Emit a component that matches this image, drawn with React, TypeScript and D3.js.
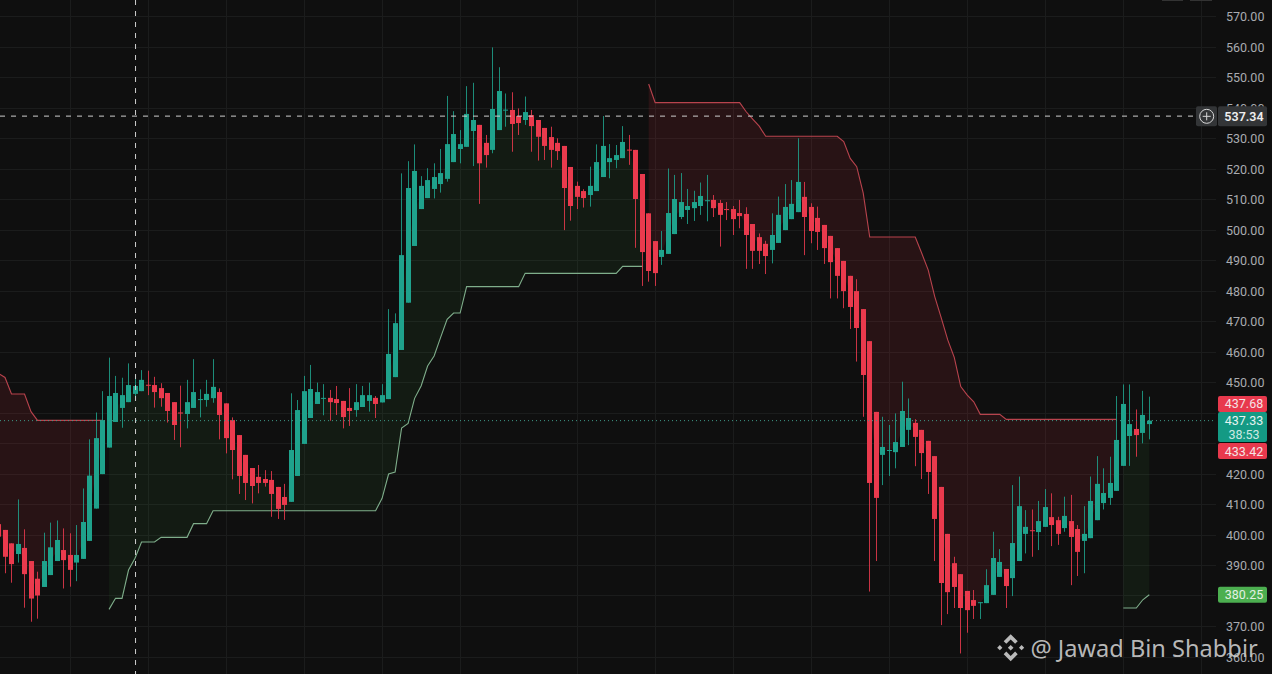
import React, { useEffect, useRef } from "react";
import * as d3 from "d3";

// OHLC per bar. Bar 0 is the one cut by the left edge.
const opens = [
  403.4, 401.5, 397.1, 393.6, 395.6, 391.3, 385.5, 382.8, 386.7, 391.3,
  394.9, 393.3, 390.8, 392.0, 397.9, 408.5, 419.8, 428.5, 436.9, 441.5,
  443.4, 446.1, 447.0, 449.1, 449.0, 448.0, 446.4, 443.4, 440.0, 439.5,
  441.5, 444.2, 444.1, 444.7, 446.7, 443.0, 437.5, 432.6, 426.1, 421.8,
  418.9, 418.2, 417.9, 415.6, 412.3, 410.7, 419.2, 429.7, 438.2, 442.8,
  444.5, 444.8, 444.4, 443.8, 441.5, 440.8, 441.8, 443.8, 444.8, 443.3,
  444.4, 451.6, 460.5, 476.0, 494.6, 506.7, 510.3, 513.3, 514.9, 516.6,
  522.1, 526.4, 527.1, 532.3, 534.3, 528.4, 526.1, 532.6, 539.1, 539.2,
  537.2, 535.9, 537.5, 535.9, 533.3, 530.3, 528.4, 527.4, 520.5, 514.3,
  512.6, 511.3, 512.6, 517.2, 522.1, 522.8, 523.4, 526.2, 526.1, 518.2,
  505.3, 496.2, 491.0, 492.0, 498.5, 504.1, 506.4, 507.0, 507.7, 509.3,
  509.7, 508.7, 506.7, 506.7, 505.4, 505.1, 501.8, 497.5, 495.3, 493.3,
  495.6, 499.8, 503.4, 505.7, 510.7, 507.4, 503.8, 501.5, 497.9, 493.9,
  489.7, 484.8, 479.8, 473.9, 463.4, 440.2, 426.1, 427.5, 427.0, 428.7,
  434.3, 436.6, 434.3, 430.7, 425.7, 415.6, 400.2, 390.6, 387.0, 381.5,
  378.5, 377.5, 377.5, 380.2, 386.1, 388.7, 385.7, 391.3, 400.2, 401.4,
  400.8, 402.5, 405.7, 404.7, 402.1, 404.4, 401.8, 397.9, 398.8, 404.7,
  410.3, 412.0, 414.3, 422.5, 432.3, 434.6, 433.3, 436.2,
];

const closes = [
  399.3, 392.7, 390.3, 396.9, 387.0, 379.0, 380.0, 391.3, 395.8, 398.2,
  391.6, 388.4, 393.3, 404.1, 419.3, 431.6, 437.5, 445.4, 446.4, 445.7,
  449.0, 448.7, 450.7, 448.8, 446.7, 444.7, 440.5, 435.9, 439.7, 443.4,
  446.7, 444.4, 446.1, 448.4, 439.2, 431.6, 427.7, 419.2, 416.9, 415.9,
  416.9, 416.9, 413.3, 408.4, 409.7, 427.7, 440.8, 447.0, 447.7, 446.7,
  444.8, 443.4, 443.1, 438.5, 440.5, 443.4, 445.7, 445.7, 442.8, 445.7,
  459.2, 469.3, 491.6, 513.6, 519.2, 514.3, 516.2, 517.2, 518.5, 528.0,
  531.3, 528.0, 537.9, 535.9, 521.7, 524.4, 539.5, 545.4, 539.3, 534.6,
  534.9, 538.5, 533.9, 530.4, 527.4, 526.1, 525.7, 513.6, 507.7, 510.7,
  510.3, 514.3, 522.1, 527.4, 523.4, 524.4, 528.7, 526.0, 510.0, 492.6,
  486.4, 485.7, 493.3, 505.4, 510.0, 509.0, 507.7, 509.0, 511.0, 509.6,
  507.0, 504.8, 506.5, 503.4, 504.4, 498.2, 493.0, 493.0, 491.3, 498.2,
  504.8, 507.4, 508.4, 515.6, 504.1, 499.5, 499.2, 493.9, 489.3, 484.8,
  479.8, 474.6, 467.7, 452.3, 416.9, 412.0, 428.7, 427.7, 430.3, 440.5,
  438.2, 432.0, 426.7, 420.5, 405.1, 384.1, 381.1, 382.8, 375.9, 375.2,
  376.6, 377.8, 383.4, 392.3, 391.0, 383.1, 397.2, 409.3, 402.5, 401.1,
  404.4, 409.0, 403.1, 400.2, 406.1, 399.2, 394.3, 400.2, 411.0, 416.6,
  413.6, 416.9, 431.0, 442.8, 436.2, 432.6, 439.2, 437.33,
];

const highs = [
  403.4, 401.5, 397.1, 411.5, 401.7, 391.3, 387.8, 400.6, 403.9, 404.6,
  402.0, 400.4, 403.1, 415.1, 431.2, 440.0, 447.0, 458.0, 452.0, 451.4,
  456.1, 452.3, 453.9, 453.7, 451.7, 449.6, 446.4, 443.4, 448.8, 450.7,
  457.5, 447.6, 450.7, 457.5, 447.9, 443.0, 438.4, 432.6, 426.1, 421.8,
  422.8, 421.1, 420.8, 415.6, 416.6, 446.3, 444.1, 452.0, 455.6, 449.8,
  449.3, 447.4, 448.7, 443.8, 448.0, 449.3, 448.7, 449.8, 445.4, 449.3,
  473.9, 472.5, 518.4, 522.4, 527.9, 517.5, 520.1, 521.7, 526.4, 543.8,
  538.8, 532.6, 547.0, 548.1, 534.3, 531.0, 559.7, 553.2, 544.6, 545.0,
  539.7, 543.6, 539.2, 535.9, 533.3, 533.7, 529.9, 527.4, 520.5, 515.7,
  513.2, 520.6, 527.9, 537.2, 528.0, 527.7, 533.9, 531.0, 526.1, 518.2,
  505.3, 496.2, 499.5, 520.0, 517.9, 518.5, 513.3, 512.7, 515.4, 517.9,
  511.3, 509.7, 509.0, 507.7, 509.7, 507.3, 501.8, 498.7, 496.3, 505.3,
  510.8, 514.9, 516.2, 529.9, 515.6, 508.6, 507.5, 501.5, 497.9, 493.9,
  489.7, 484.8, 483.7, 473.9, 463.4, 440.2, 438.6, 435.9, 439.7, 450.1,
  444.6, 437.8, 434.3, 430.7, 425.7, 415.6, 400.2, 392.7, 387.0, 381.5,
  381.8, 377.8, 388.6, 400.9, 395.2, 388.7, 416.2, 419.0, 408.0, 408.2,
  411.0, 414.9, 413.5, 405.8, 412.4, 413.0, 403.1, 409.3, 419.0, 425.7,
  421.7, 425.5, 445.4, 449.2, 449.2, 441.0, 447.1, 445.2,
];

const lows = [
  396.0, 387.3, 384.2, 390.8, 376.0, 371.4, 372.4, 382.8, 386.7, 391.3,
  382.3, 382.9, 384.7, 392.0, 397.9, 408.5, 419.8, 428.5, 436.9, 435.0,
  443.4, 445.2, 447.0, 445.7, 441.6, 441.9, 436.7, 431.0, 428.6, 434.8,
  441.5, 438.4, 441.9, 443.2, 431.2, 426.6, 418.1, 413.3, 411.3, 410.2,
  413.5, 415.7, 405.8, 405.1, 404.8, 410.7, 419.2, 429.7, 438.2, 442.8,
  439.1, 437.3, 439.2, 434.8, 435.6, 438.6, 441.8, 440.3, 438.2, 443.3,
  444.4, 451.6, 460.5, 476.0, 494.6, 506.7, 510.3, 510.2, 512.1, 515.7,
  522.1, 521.7, 527.1, 520.8, 508.4, 520.3, 525.0, 532.6, 533.7, 525.5,
  531.0, 534.3, 525.5, 522.6, 522.8, 520.3, 522.8, 499.8, 502.9, 506.7,
  507.2, 507.5, 512.6, 517.2, 516.8, 520.1, 523.4, 521.2, 494.0, 481.5,
  482.9, 481.5, 488.4, 492.0, 498.5, 503.4, 501.8, 502.8, 504.8, 502.7,
  504.1, 494.4, 503.1, 498.2, 500.4, 487.1, 487.1, 488.7, 485.4, 488.9,
  495.6, 499.8, 503.4, 505.7, 491.6, 495.5, 493.3, 488.7, 477.4, 477.4,
  474.2, 467.4, 456.7, 438.6, 381.3, 391.3, 416.2, 419.2, 421.7, 428.7,
  429.3, 422.4, 418.2, 413.3, 391.3, 370.3, 373.9, 375.9, 361.0, 367.8,
  372.3, 372.3, 377.5, 380.2, 386.1, 375.9, 379.8, 391.3, 393.8, 392.7,
  394.9, 402.5, 396.2, 396.6, 400.9, 383.4, 386.4, 387.3, 398.8, 404.7,
  408.2, 409.7, 414.3, 422.5, 422.5, 425.5, 429.9, 431.2,
];

// Supertrend stop, one value per bar, split into its four legs
const bearLegA = [
  452.8, 451.5, 446.07, 446.07, 446.07, 440.27, 437.43, 437.43, 437.43,
  437.43, 437.43, 437.43, 437.43, 437.43, 437.43, 437.43, 437.43,
];
const bullLegA = [
  375.46, 379.07, 379.07, 388.36, 392.19, 397.54, 397.54, 397.54, 399.07, 399.07,
  399.07, 399.07, 399.07, 403.55, 403.55, 403.55, 407.81, 407.81, 407.81, 407.81,
  407.81, 407.81, 407.81, 407.81, 407.81, 407.81, 407.81, 407.81, 407.81, 407.81,
  407.81, 407.81, 407.81, 407.81, 407.81, 407.81, 407.81, 407.81, 407.81, 407.81,
  407.81, 407.81, 411.86, 419.84, 420.5, 434.92, 436.45, 444.64, 448.69, 455.25,
  458.52, 464.64, 470.55, 472.62, 472.62, 481.26, 481.26, 481.26, 481.26, 481.26,
  481.26, 481.26, 481.26, 481.26, 485.63, 485.63, 485.63, 485.63, 485.63, 485.63,
  485.63, 485.63, 485.63, 485.63, 485.63, 485.63, 485.63, 485.63, 485.63, 487.92,
  487.92, 487.92, 487.92,
];
const bearLegB = [
  547.7, 541.6, 541.6, 541.6, 541.6, 541.6, 541.6, 541.6, 541.6, 541.6,
  541.6, 541.6, 541.6, 541.6, 541.6, 538.6, 536.2, 533.9, 530.55, 530.55,
  530.55, 530.55, 530.55, 530.55, 530.55, 530.55, 530.55, 530.55, 530.55, 530.55,
  528.8, 523.3, 520.6, 511.9, 497.54, 497.54, 497.54, 497.54, 497.54, 497.54,
  497.54, 497.54, 492.2, 486.7, 478, 471, 463.8, 458.1, 448.5, 445.7,
  443.5, 439.4, 439.4, 439.4, 439.4, 437.76, 437.76, 437.76, 437.76, 437.76,
  437.76, 437.76, 437.76, 437.76, 437.76, 437.76, 437.76, 437.76, 437.76, 437.76,
  437.76, 437.76, 437.76,
];
const bullLegB = [375.9, 375.9, 375.9, 378.6, 380.25];

const gridPrices = d3.range(360, 571, 10);
// 430 and 440 sit fully behind the price tags
const labelPrices = gridPrices.filter((p) => p !== 430 && p !== 440);
const gridBars = [11, 23, 35, 47, 59, 71, 89, 101, 113, 125, 137, 149, 161, 173, 185];

const crossPrice = 537.34;
const crossBar = 21;
const lastPrice = 437.33;
const countdown = "38:53";
const upperTag = 437.68;
const lowerTag = 433.42;
const stopTag = 380.25;

const WIDTH = 1272;
const HEIGHT = 674;
const UP = "#1fa28c";
const DOWN = "#ea3a4d";
const GRID = "#1b1c1c";
const FONT = "Roboto, sans-serif";

export default function App() {
  const svgRef = useRef<SVGSVGElement | null>(null);

  useEffect(() => {
    if (!svgRef.current) return;
    const svg = d3.select(svgRef.current);
    svg.selectAll("*").remove();

    const x = d3.scaleLinear().domain([0, 177]).range([-1.5, 1149.3]);
    const y = d3.scaleLinear().domain([570, 370]).range([16, 626]);
    const col = (bar: number) => Math.round(x(bar) - 0.5); // wick pixel column

    svg.append("rect").attr("width", WIDTH).attr("height", HEIGHT).attr("fill", "#0f0f0f");

    // Grid
    svg.append("g")
      .selectAll("line")
      .data(gridPrices)
      .join("line")
      .attr("x1", 0)
      .attr("x2", 1216)
      .attr("y1", (d) => Math.round(y(d)) + 0.5)
      .attr("y2", (d) => Math.round(y(d)) + 0.5)
      .attr("stroke", GRID);
    svg.append("g")
      .selectAll("line")
      .data(gridBars)
      .join("line")
      .attr("x1", (d) => col(d) + 0.5)
      .attr("x2", (d) => col(d) + 0.5)
      .attr("y1", 0)
      .attr("y2", HEIGHT)
      .attr("stroke", GRID);

    // Supertrend legs: fill to the body midpoint, then the stop line
    const legs = [
      { first: 0, values: bearLegA, fill: "rgba(242,54,69,0.11)", stroke: "#b8434d" },
      { first: 17, values: bullLegA, fill: "rgba(76,175,80,0.08)", stroke: "#7fae8b" },
      { first: 100, values: bearLegB, fill: "rgba(242,54,69,0.11)", stroke: "#b8434d" },
      { first: 173, values: bullLegB, fill: "rgba(76,175,80,0.08)", stroke: "#7fae8b" },
    ];
    legs.forEach((leg) => {
      const pts = leg.values.map((v, i) => ({ bar: leg.first + i, stop: v }));
      const area = d3.area<{ bar: number; stop: number }>()
        .x((d) => x(d.bar))
        .y0((d) => y((opens[d.bar] + closes[d.bar]) / 2))
        .y1((d) => y(d.stop));
      const line = d3.line<{ bar: number; stop: number }>()
        .x((d) => x(d.bar))
        .y((d) => y(d.stop));
      svg.append("path").datum(pts).attr("fill", leg.fill).attr("d", area);
      svg.append("path")
        .datum(pts)
        .attr("fill", "none")
        .attr("stroke", leg.stroke)
        .attr("stroke-width", 1.1)
        .attr("d", line);
    });

    // Candles
    const candles = svg.append("g")
      .selectAll("g")
      .data(d3.range(opens.length))
      .join("g")
      .attr("fill", (i) => (closes[i] >= opens[i] ? UP : DOWN));
    candles.append("rect")
      .attr("x", (i) => col(i))
      .attr("width", 1)
      .attr("opacity", 0.85)
      .attr("y", (i) => y(highs[i]))
      .attr("height", (i) => y(lows[i]) - y(highs[i]));
    candles.append("rect")
      .attr("x", (i) => col(i) - 2)
      .attr("width", 5)
      .attr("y", (i) => y(Math.max(opens[i], closes[i])))
      .attr("height", (i) => Math.max(1, Math.abs(y(opens[i]) - y(closes[i]))));

    // Last price line
    svg.append("line")
      .attr("x1", 0)
      .attr("x2", 1216)
      .attr("y1", y(lastPrice))
      .attr("y2", y(lastPrice))
      .attr("stroke", "#3f9a8a")
      .attr("stroke-dasharray", "1 3");

    // Crosshair
    svg.append("line")
      .attr("x1", 0)
      .attr("x2", 1196)
      .attr("y1", y(crossPrice) + 0.5)
      .attr("y2", y(crossPrice) + 0.5)
      .attr("stroke", "#cfcfcf")
      .attr("stroke-dasharray", "5 6");
    svg.append("line")
      .attr("x1", x(crossBar) + 0.5)
      .attr("x2", x(crossBar) + 0.5)
      .attr("y1", 0)
      .attr("y2", HEIGHT)
      .attr("stroke", "#cfcfcf")
      .attr("stroke-dasharray", "5 6");

    // Price axis
    svg.append("g")
      .attr("transform", "translate(1226,0.7)")
      .call(d3.axisRight(y).tickValues(labelPrices).tickSize(0).tickPadding(0).tickFormat((d) => (d as number).toFixed(2)))
      .call((g) => {
        g.select(".domain").remove();
        g.selectAll(".tick text")
          .attr("fill", "#a9abb0")
          .style("font-family", FONT)
          .style("font-size", "12.5px");
      });

    // Toolbar stubs at the top edge
    svg.append("rect").attr("x", 1162).attr("y", 0).attr("width", 21).attr("height", 1).attr("fill", "#333");
    svg.append("rect").attr("x", 1190).attr("y", 0).attr("width", 22).attr("height", 1).attr("fill", "#333");

    // Price tags
    const tag = (top: number, h: number, fill: string) =>
      svg.append("rect")
        .attr("x", 1218)
        .attr("y", top)
        .attr("width", 49)
        .attr("height", h)
        .attr("rx", 2)
        .attr("fill", fill);
    const tagText = (cy: number, label: string, fill: string, weight = 400) =>
      svg.append("text")
        .attr("x", 1244)
        .attr("y", cy)
        .attr("dy", "0.35em")
        .attr("text-anchor", "middle")
        .attr("fill", fill)
        .attr("font-family", FONT)
        .attr("font-size", 12.5)
        .attr("font-weight", weight)
        .text(label);

    tag(396, 16, "#e8394d");
    tagText(404, upperTag.toFixed(2), "#f4e4e6");
    tag(412, 30, "#149a84");
    tagText(420.7, lastPrice.toFixed(2), "#e6f4f1");
    tagText(434.3, countdown, "#cfe9e3");
    tag(443, 16, "#e8394d");
    tagText(451.3, lowerTag.toFixed(2), "#f4e4e6");
    tag(y(stopTag) - 8, 16, "#4caf50");
    tagText(y(stopTag), stopTag.toFixed(2), "#e4f1e4");

    // Crosshair tag and plus button
    const crossY = y(crossPrice) + 0.7;
    svg.append("rect").attr("x", 1196).attr("y", crossY - 10).attr("width", 21).attr("height", 20).attr("rx", 2).attr("fill", "#333537");
    svg.append("rect").attr("x", 1218).attr("y", crossY - 10).attr("width", 49).attr("height", 20).attr("rx", 2).attr("fill", "#333537");
    svg.append("circle").attr("cx", 1206.7).attr("cy", crossY).attr("r", 7).attr("fill", "none").attr("stroke", "#d8d8d8").attr("stroke-width", 1);
    svg.append("path")
      .attr("d", `M1202.7,${crossY}H1210.7M1206.7,${crossY - 4}V${crossY + 4}`)
      .attr("stroke", "#d8d8d8")
      .attr("stroke-width", 1);
    tagText(crossY, crossPrice.toFixed(2), "#eeeeee", 600);

    // Watermark
    const mark = svg.append("g").attr("fill", "#c9c9c9").attr("fill-opacity", 0.92);
    const logo = mark.append("g").attr("transform", "translate(1010.7,647.7)");
    [
      "0,-13.5 7,-6.5 4.4,-3.9 0,-8.3 -4.4,-3.9 -7,-6.5",
      "0,13.5 7,6.5 4.4,3.9 0,8.3 -4.4,3.9 -7,6.5",
      "-13.5,0 -10.9,-2.6 -8.3,0 -10.9,2.6",
      "13.5,0 10.9,-2.6 8.3,0 10.9,2.6",
      "0,-2.8 2.8,0 0,2.8 -2.8,0",
    ].forEach((p) => logo.append("polygon").attr("points", p));
    mark.append("text")
      .attr("x", 1030.5)
      .attr("y", 656.5)
      .attr("font-family", "'Noto Sans', sans-serif")
      .attr("font-size", 23.6)
      .text("@ Jawad Bin Shabbir");
  }, []);

  return <svg ref={svgRef} width={WIDTH} height={HEIGHT} style={{ position: "absolute", left: 0, top: 0, display: "block" }} />;
}
